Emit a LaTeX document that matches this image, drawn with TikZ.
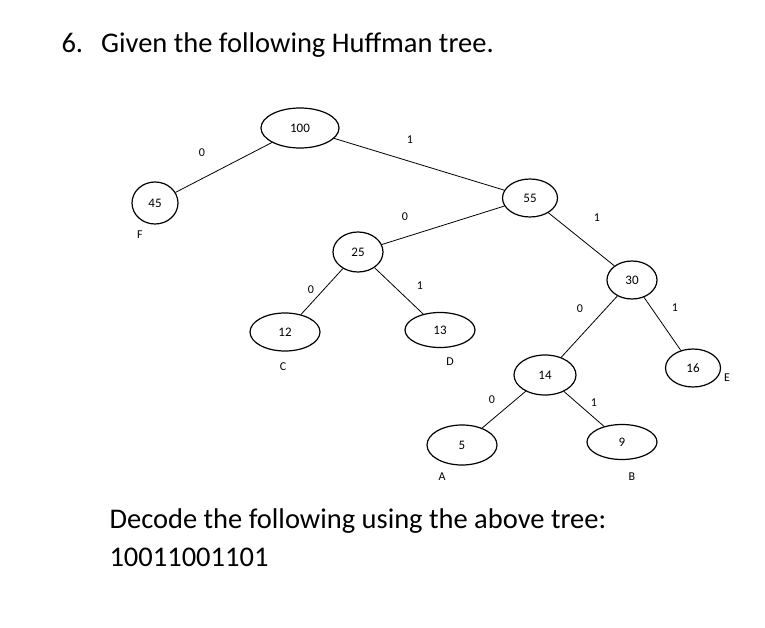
\documentclass[tikz,border=0pt]{standalone}
\usepackage{fontspec}
\setmainfont{Carlito}
\usetikzlibrary{shapes.geometric}
\begin{document}
\begin{tikzpicture}[x=1pt,y=-1pt,
  nd/.style={ellipse,draw,line width=1.2pt,inner sep=0pt,font=\fontsize{13}{15}\selectfont},
  lab/.style={font=\fontsize{12}{14}\selectfont,inner sep=1pt},
  ed/.style={line width=0.8pt}]
\useasboundingbox (0,0) rectangle (765,628);
\node[anchor=west,font=\fontsize{28.5}{32}\selectfont] (title) at (58,45) {6.\hspace{18pt}Given the following Huffman tree.};
\node[nd,minimum width=78pt,minimum height=40pt] (n100) at (300,128) {100};
\node[nd,minimum width=46pt,minimum height=42pt] (n45) at (155,203) {45};
\node[nd,minimum width=55pt,minimum height=38pt] (n55) at (530,198) {55};
\node[nd,minimum width=50pt,minimum height=40pt] (n25) at (358,252) {25};
\node[nd,minimum width=50pt,minimum height=38pt] (n30) at (632,280) {30};
\node[nd,minimum width=70pt,minimum height=38pt] (n12) at (285,332) {12};
\node[nd,minimum width=70pt,minimum height=35pt] (n13) at (440,330) {13};
\node[nd,minimum width=62pt,minimum height=40pt] (n14) at (545,375) {14};
\node[nd,minimum width=55pt,minimum height=38pt] (n16) at (693,368) {16};
\node[nd,minimum width=70pt,minimum height=40pt] (n5) at (462,445) {5};
\node[nd,minimum width=70pt,minimum height=35pt] (n9) at (622,442) {9};
\draw[ed] (n100) -- (n45);
\draw[ed] (n100) -- (n55);
\draw[ed] (n55) -- (n25);
\draw[ed] (n55) -- (n30);
\draw[ed] (n25) -- (n12);
\draw[ed] (n25) -- (n13);
\draw[ed] (n30) -- (n14);
\draw[ed] (n30) -- (n16);
\draw[ed] (n14) -- (n5);
\draw[ed] (n14) -- (n9);
\node[lab] (l1) at (202,153) {0};
\node[lab] (l2) at (410,140) {1};
\node[lab] (l3) at (405,217) {0};
\node[lab] (l4) at (597,218) {1};
\node[lab] (l5) at (311,290) {0};
\node[lab] (l6) at (420,286) {1};
\node[lab] (l7) at (580,309) {0};
\node[lab] (l8) at (675,308) {1};
\node[lab] (l9) at (492,400) {0};
\node[lab] (l10) at (594,403) {1};
\node[lab] (lf) at (140,235) {F};
\node[lab] (lc) at (283,367) {C};
\node[lab] (ld) at (450,362) {D};
\node[lab] (la) at (442,477) {A};
\node[lab] (lb) at (632,477) {B};
\node[lab] (le) at (727,378) {E};
\node[anchor=west,font=\fontsize{28.5}{32}\selectfont] (q) at (106,521) {Decode the following using the above tree:};
\node[anchor=west,font=\fontsize{28.5}{32}\selectfont] (code) at (106,557) {10011001101};
\end{tikzpicture}
\end{document}
